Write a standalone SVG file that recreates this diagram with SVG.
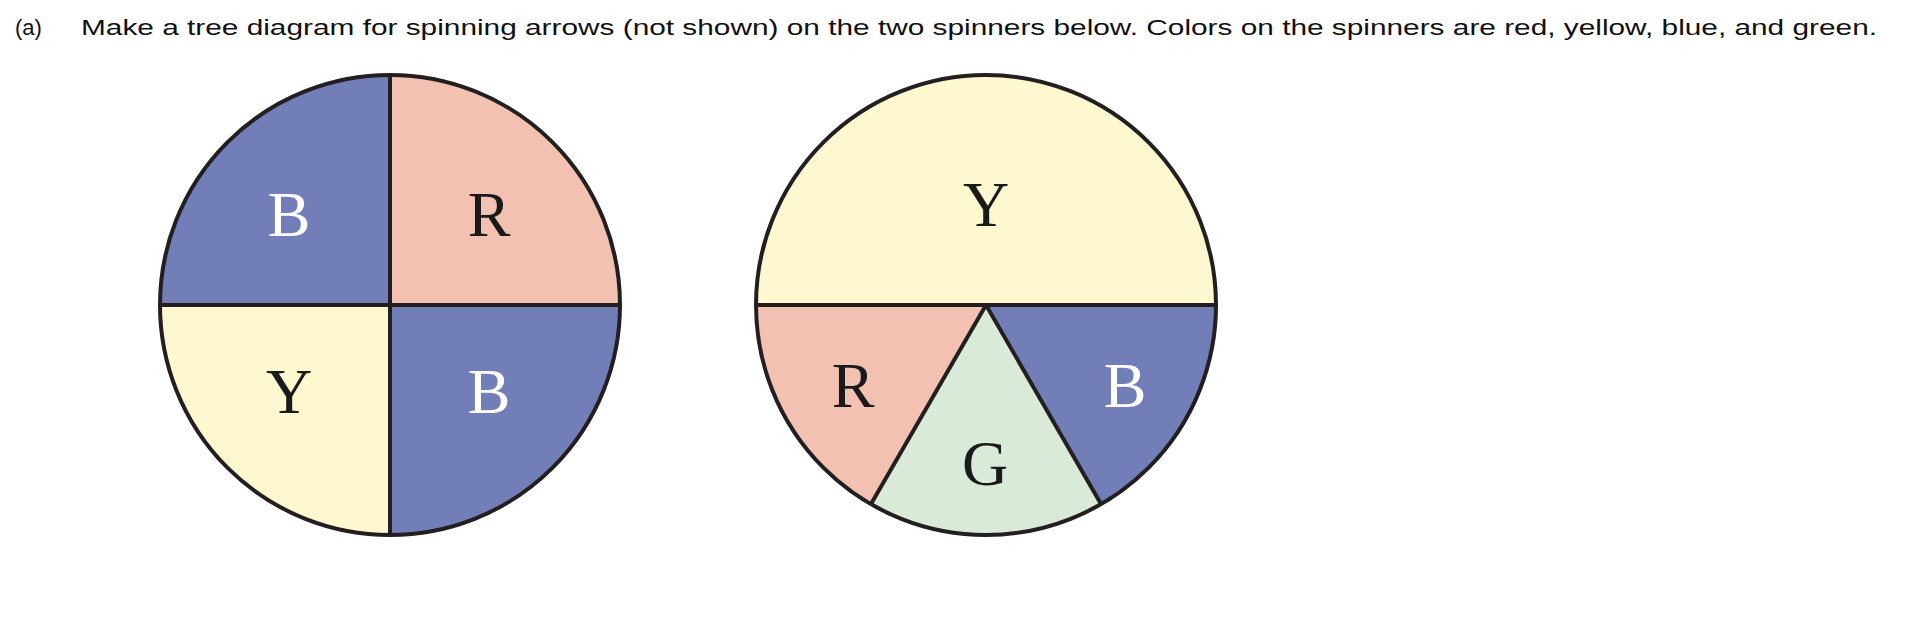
<svg xmlns="http://www.w3.org/2000/svg" width="1918" height="630" viewBox="0 0 1918 630">
<style>
.s{stroke:#231f20;stroke-width:4;stroke-linejoin:round}
.b{fill:#717eb7}.r{fill:#f2c1b2}.y{fill:#fef8d1}.g{fill:#d9ead8}
.L{font-family:"Liberation Serif",serif;font-size:64px;text-anchor:middle}
.dk{fill:#1a1a1a}.wh{fill:#ffffff}
</style>
<rect width="1918" height="630" fill="#fff"/>
<text x="15" y="35" font-family="Liberation Sans, Arial, sans-serif" font-size="22" fill="#111">(a)</text>
<text x="81" y="35" font-family="Liberation Sans, Arial, sans-serif" font-size="22" fill="#111" textLength="1796" lengthAdjust="spacingAndGlyphs">Make a tree diagram for spinning arrows (not shown) on the two spinners below. Colors on the spinners are red, yellow, blue, and green.</text>
<g id="spinner1">
<path class="b" d="M390,305 L160,305 A230,230 0 0 1 390,75 Z"/>
<path class="r" d="M390,305 L390,75 A230,230 0 0 1 620,305 Z"/>
<path class="y" d="M390,305 L390,535 A230,230 0 0 1 160,305 Z"/>
<path class="b" d="M390,305 L620,305 A230,230 0 0 1 390,535 Z"/>
<circle cx="390" cy="305" r="230" fill="none" class="s"/>
<line class="s" x1="160" y1="305" x2="620" y2="305"/>
<line class="s" x1="390" y1="75" x2="390" y2="535"/>
<text class="L wh" x="289" y="236">B</text>
<text class="L dk" x="489" y="236">R</text>
<text class="L dk" x="289" y="413">Y</text>
<text class="L wh" x="489" y="413">B</text>
</g>
<g id="spinner2">
<path class="y" d="M756,305 A230,230 0 0 1 1216,305 Z"/>
<path class="r" d="M986,305 L756,305 A230,230 0 0 0 871,504 Z"/>
<path class="g" d="M986,305 L871,504 A230,230 0 0 0 1101,504 Z"/>
<path class="b" d="M986,305 L1101,504 A230,230 0 0 0 1216,305 Z"/>
<circle cx="986" cy="305" r="230" fill="none" class="s"/>
<line class="s" x1="756" y1="305" x2="1216" y2="305"/>
<polyline class="s" fill="none" points="871,504 986,305 1101,504"/>
<text class="L dk" x="986" y="226">Y</text>
<text class="L dk" x="853" y="407">R</text>
<text class="L wh" x="1125" y="407">B</text>
<text class="L dk" x="985" y="485">G</text>
</g>
</svg>
